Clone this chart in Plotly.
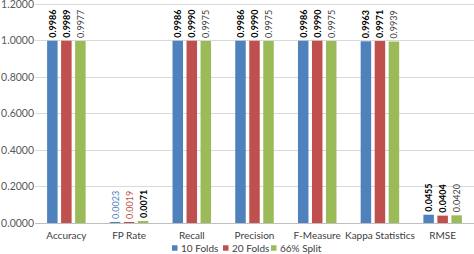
import plotly.graph_objects as go

categories = ["Accuracy", "FP Rate", "Recall", "Precision", "F-Measure", "Kappa Statistics", "RMSE"]
series_names = ["10 Folds", "20 Folds", "66% Split"]
folds10 = [0.9986, 0.0023, 0.9986, 0.9986, 0.9986, 0.9963, 0.0455]
folds20 = [0.9989, 0.0019, 0.9990, 0.9990, 0.9990, 0.9971, 0.0404]
split66 = [0.9977, 0.0071, 0.9975, 0.9975, 0.9975, 0.9939, 0.0420]
y_ticks = [0.0, 0.2, 0.4, 0.6, 0.8, 1.0, 1.2]

colors = ["#4F81BD", "#C0504D", "#9BBB59"]
FONT = "Lato, Liberation Sans, sans-serif"

# label styling per series (bold flags, colors)
label_bold = [
    [True, False, True, True, True, True, True],
    [True, False, True, True, True, True, True],
    [False, True, False, False, False, False, False],
]
label_color = [
    ["#000000", "#4F81BD", "#000000", "#000000", "#000000", "#000000", "#000000"],
    ["#000000", "#C0504D", "#000000", "#000000", "#000000", "#000000", "#000000"],
    ["#404040", "#000000", "#404040", "#404040", "#404040", "#404040", "#404040"],
]

W, H = 474, 254
ML, MR, MT, MB = 35, 0, 2, 31
PW, PH = W - ML - MR, H - MT - MB

fig = go.Figure()
for i, (name, vals) in enumerate(zip(series_names, [folds10, folds20, split66])):
    texts = [f"<b>{v:.4f}</b>" if b else f"{v:.4f}" for v, b in zip(vals, label_bold[i])]
    fig.add_trace(go.Bar(
        x=categories, y=vals, name=name, showlegend=False,
        marker=dict(color=colors[i], line=dict(width=0)),
        text=texts, textposition="outside", textangle=-90, constraintext="none",
        textfont=dict(family=FONT, size=9, color=label_color[i]),
        cliponaxis=False,
    ))

# custom compact legend (Excel style)
legend_x_px = [172, 223, 271]
legend_y_px = 248
for i, name in enumerate(series_names):
    x0 = (legend_x_px[i] - ML) / PW
    x1 = (legend_x_px[i] + 5.5 - ML) / PW
    yc = (H - MB - legend_y_px) / PH
    fig.add_shape(type="rect", xref="paper", yref="paper",
                  x0=x0, x1=x1, y0=yc - 2.75 / PH, y1=yc + 2.75 / PH,
                  fillcolor=colors[i], line=dict(width=0))
    fig.add_annotation(text=name, xref="paper", yref="paper",
                       x=(legend_x_px[i] + 7 - ML) / PW, y=yc,
                       xanchor="left", yanchor="middle", showarrow=False,
                       font=dict(family=FONT, size=10, color="#404040"))

fig.update_layout(
    width=W, height=H,
    margin=dict(l=ML, r=MR, t=MT, b=MB, autoexpand=False),
    paper_bgcolor="white", plot_bgcolor="white",
    barmode="group", bargap=0.33, bargroupgap=0.25,
    font=dict(family=FONT, size=10, color="#404040"),
    showlegend=False,
)
fig.update_yaxes(range=[0, 1.211], tickvals=y_ticks, tickformat=".4f",
                 ticklabeloverflow="allow",
                 showgrid=True, gridcolor="#D9D9D9", gridwidth=1,
                 zeroline=True, zerolinecolor="#BFBFBF", zerolinewidth=1,
                 automargin=False, ticks="", tickfont=dict(size=10.5, color="#595959"))
fig.update_xaxes(showline=False, ticks="", automargin=False, tickangle=0,
                 ticklabelstandoff=5, ticklabeloverflow="allow",
                 tickfont=dict(size=10, color="#404040"))

fig.write_html("out.html")
